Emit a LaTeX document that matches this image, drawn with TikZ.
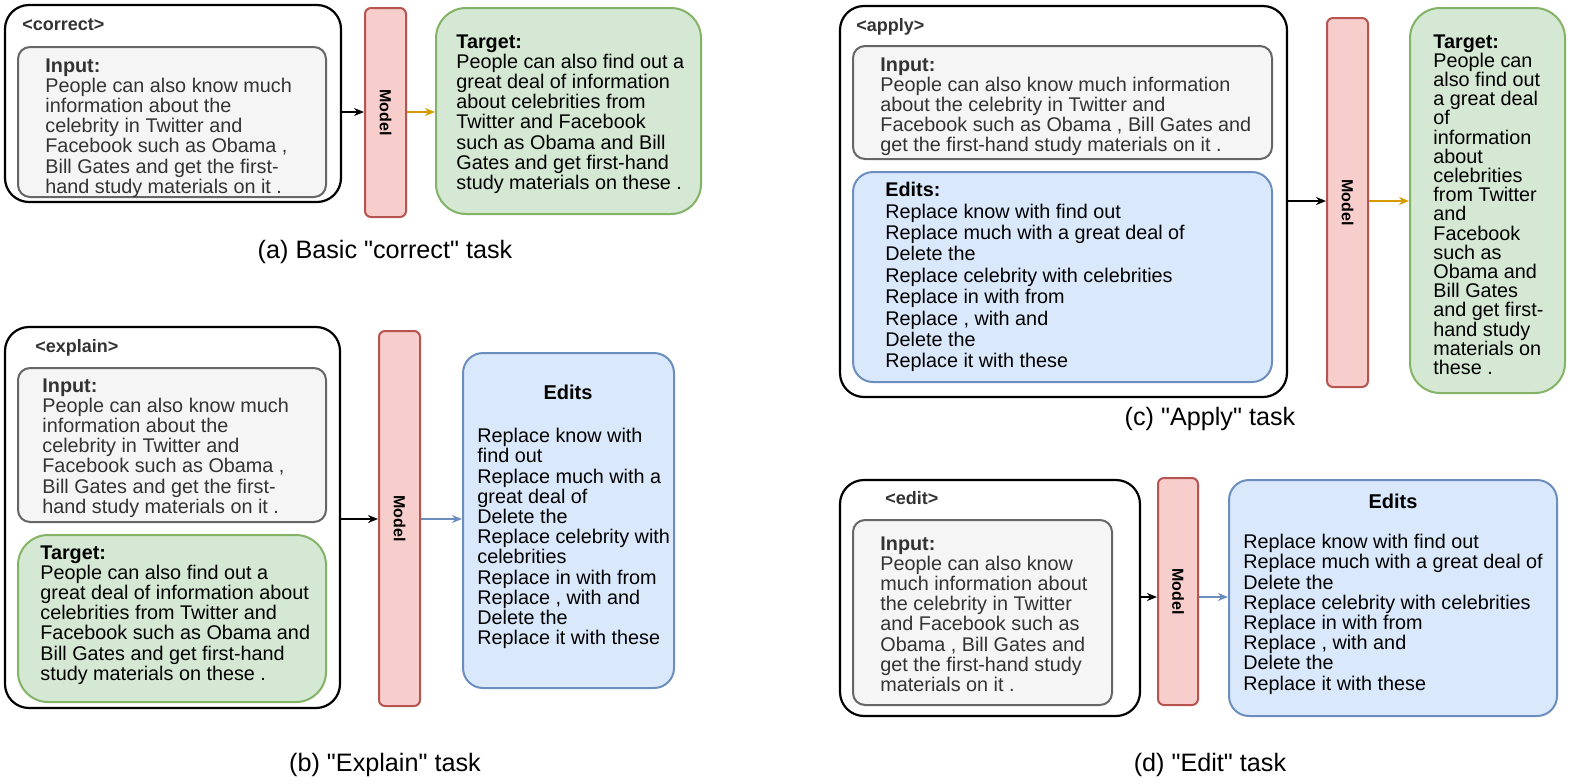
\documentclass[tikz,border=0pt]{standalone}
\usepackage{fontspec}
\setmainfont{Liberation Sans}[Ligatures=TeXOff]
\usetikzlibrary{fit,arrows.meta}
\definecolor{gfill}{HTML}{F5F5F5}\definecolor{gdraw}{HTML}{666666}
\definecolor{rfill}{HTML}{F8CECC}\definecolor{rdraw}{HTML}{B85450}
\definecolor{grfill}{HTML}{D5E8D4}\definecolor{grdraw}{HTML}{82B366}
\definecolor{bfill}{HTML}{DAE8FC}\definecolor{bdraw}{HTML}{6C8EBF}
\definecolor{odraw}{HTML}{D79B00}\definecolor{txtg}{HTML}{333333}
\begin{document}
\begin{tikzpicture}[x=0.5pt,y=-0.5pt,
 outer/.style={draw=black,line width=1.1pt,rounded corners=12pt,inner sep=0},
 inbox/.style={draw=gdraw,fill=gfill,line width=1pt,rounded corners=6pt,inner sep=0},
 tgt/.style={draw=grdraw,fill=grfill,line width=1pt,rounded corners=15pt,inner sep=0},
 edb/.style={draw=bdraw,fill=bfill,line width=1pt,rounded corners=10pt,inner sep=0},
 model/.style={draw=rdraw,fill=rfill,line width=1pt,rounded corners=3pt,inner sep=0},
 txt/.style={anchor=north west,align=left,inner sep=0,font=\fontsize{9.9}{10.1}\selectfont},
 tag/.style={anchor=west,inner sep=0,font=\fontsize{9}{10}\selectfont\bfseries,text=txtg},
 mlab/.style={rotate=-90,font=\fontsize{8}{9}\selectfont\bfseries},
 head/.style={font=\fontsize{10}{11}\selectfont\bfseries},
 capt/.style={font=\fontsize{12.6}{14}\selectfont},
 arr/.style={-{Stealth[length=5pt,width=4pt]},line width=1pt}]
\useasboundingbox (0,0) rectangle (1581,783);
% (a)
\node[outer,fit={(5,5)(341,202)}] (ao) {};
\node[tag] (at) at (22,25) {<correct>};
\node[inbox,fit={(18,47)(326,197)}] (ai) {};
\node[txt,text=txtg] (ait) at (45,58) {\textbf{Input:}\\People can also know much\\information about the\\celebrity in Twitter and\\Facebook such as Obama ,\\Bill Gates and get the first-\\hand study materials on it .};
\node[model,fit={(365,8)(406,217)}] (am) {};
\node[mlab] at (am) {Model};
\node[tgt,fit={(436,8)(701,214)}] (ag) {};
\node[txt] (agt) at (456,34) {\textbf{Target:}\\People can also find out a\\great deal of information\\about celebrities from\\Twitter and Facebook\\such as Obama and Bill\\Gates and get first-hand\\study materials on these .};
\draw[arr] (ao.east|-0,112) -- (am.west|-0,112);
\draw[arr,odraw] (am.east|-0,112) -- (ag.west|-0,112);
\node[capt] (ac) at (385,252) {(a) Basic "correct" task};
% (b)
\node[outer,fit={(5,327)(340,708)}] (bo) {};
\node[tag] (bt) at (35,348) {<explain>};
\node[inbox,fit={(18,368)(326,522)}] (bi) {};
\node[txt,text=txtg] (bit) at (42,378) {\textbf{Input:}\\People can also know much\\information about the\\celebrity in Twitter and\\Facebook such as Obama ,\\Bill Gates and get the first-\\hand study materials on it .};
\node[tgt,fit={(18,535)(326,702)}] (bg) {};
\node[txt] (bgt) at (40,545) {\textbf{Target:}\\People can also find out a\\great deal of information about\\celebrities from Twitter and\\Facebook such as Obama and\\Bill Gates and get first-hand\\study materials on these .};
\node[model,fit={(379,331)(420,706)}] (bm) {};
\node[mlab] at (bm) {Model};
\node[edb,fit={(463,353)(674,688)}] (be) {};
\node[head] (beh) at (568,392) {Edits};
\node[txt] (bet) at (477,428) {Replace know with\\find out\\Replace much with a\\great deal of\\Delete the\\Replace celebrity with\\celebrities\\Replace in with from\\Replace , with and\\Delete the\\Replace it with these};
\draw[arr] (bo.east|-0,519) -- (bm.west|-0,519);
\draw[arr,bdraw] (bm.east|-0,519) -- (be.west|-0,519);
\node[capt] (bc) at (385,765) {(b) "Explain" task};
% (c)
\node[outer,fit={(840,6)(1287,397)}] (co) {};
\node[tag] (ct) at (856,27) {<apply>};
\node[inbox,fit={(853,46)(1272,159)}] (ci) {};
\node[txt,text=txtg] (cit) at (880,57) {\textbf{Input:}\\People can also know much information\\about the celebrity in Twitter and\\Facebook such as Obama , Bill Gates and\\get the first-hand study materials on it .};
\node[edb,fit={(853,172)(1272,382)}] (ce) {};
\node[txt,font=\fontsize{9.9}{10.7}\selectfont] (cet) at (885,182) {\textbf{Edits:}\\Replace know with find out\\Replace much with a great deal of\\Delete the\\Replace celebrity with celebrities\\Replace in with from\\Replace , with and\\Delete the\\Replace it with these};
\node[model,fit={(1327,18)(1368,387)}] (cm) {};
\node[mlab] at (cm) {Model};
\node[tgt,fit={(1410,8)(1565,393)}] (cg) {};
\node[txt,font=\fontsize{9.9}{9.6}\selectfont] (cgt) at (1433,34) {\textbf{Target:}\\People can\\also find out\\a great deal\\of\\information\\about\\celebrities\\from Twitter\\and\\Facebook\\such as\\Obama and\\Bill Gates\\and get first-\\hand study\\materials on\\these .};
\draw[arr] (co.east|-0,201) -- (cm.west|-0,201);
\draw[arr,odraw] (cm.east|-0,201) -- (cg.west|-0,201);
\node[capt] (cc) at (1210,419) {(c) "Apply" task};
% (d)
\node[outer,fit={(840,480)(1140,716)}] (do) {};
\node[tag] (dt) at (885,498) {<edit>};
\node[inbox,fit={(853,520)(1112,705)}] (di) {};
\node[txt,text=txtg] (dit) at (880,536) {\textbf{Input:}\\People can also know\\much information about\\the celebrity in Twitter\\and Facebook such as\\Obama , Bill Gates and\\get the first-hand study\\materials on it .};
\node[model,fit={(1158,478)(1198,705)}] (dm) {};
\node[mlab] at (dm) {Model};
\node[edb,fit={(1229,480)(1557,716)}] (de) {};
\node[head] (deh) at (1393,501) {Edits};
\node[txt] (det) at (1243,534) {Replace know with find out\\Replace much with a great deal of\\Delete the\\Replace celebrity with celebrities\\Replace in with from\\Replace , with and\\Delete the\\Replace it with these};
\draw[arr] (do.east|-0,597) -- (dm.west|-0,597);
\draw[arr,bdraw] (dm.east|-0,597) -- (de.west|-0,597);
\node[capt] (dc) at (1210,765) {(d) "Edit" task};
\end{tikzpicture}
\end{document}
